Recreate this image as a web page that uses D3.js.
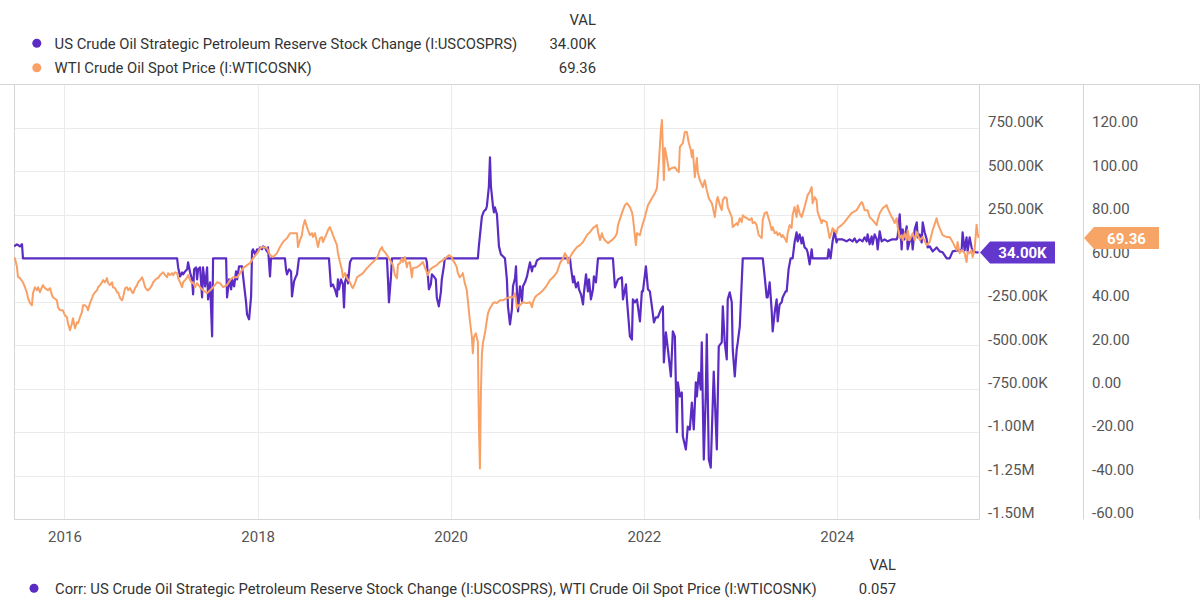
<!DOCTYPE html>
<html><head><meta charset="utf-8">
<script src="https://cdn.jsdelivr.net/npm/d3@7"></script>
<style>
body{margin:0;background:#fff;}
svg{display:block;font-family:Roboto,"Noto Sans",sans-serif;}
</style></head>
<body><svg id="chart" width="1200" height="600"></svg>
<script>
// ---------- DATA ----------
const sprName = "US Crude Oil Strategic Petroleum Reserve Stock Change (I:USCOSPRS)";
const wtiName = "WTI Crude Oil Spot Price (I:WTICOSNK)";
const corrName = "Corr: " + sprName + ", " + wtiName;
const legendHeader = "VAL";
const sprLastLabel = "34.00K";
const wtiLastLabel = "69.36";
const corrValueLabel = "0.057";

// the 0 label is hidden behind the last-value tag in the original
const sprTicksK = [-1500, -1250, -1000, -750, -500, -250, 250, 500, 750];
const sprGridK = [-1250, -1000, -750, -500, -250, 0, 250, 500, 750];
const wtiTicks = [-60, -40, -20, 0, 20, 40, 60, 80, 100, 120];
const yearTicks = [2016, 2018, 2020, 2022, 2024];

// dates as decimal years, SPR values in thousands
const sprDates = [2015.477,2015.508,2015.539,2015.560,2015.570,2017.165,2017.176,2017.196,2017.217,2017.227,2017.248,2017.269,2017.279,2017.300,2017.320,2017.331,2017.341,2017.362,2017.372,2017.383,2017.403,2017.424,2017.434,2017.455,2017.476,2017.486,2017.507,2017.528,2017.538,2017.673,2017.683,2017.704,2017.725,2017.735,2017.756,2017.776,2017.787,2017.807,2017.838,2017.849,2017.880,2017.890,2017.911,2017.932,2017.942,2017.952,2017.973,2017.994,2018.004,2018.025,2018.045,2018.056,2018.076,2018.097,2018.107,2018.128,2018.138,2018.283,2018.294,2018.304,2018.325,2018.346,2018.356,2018.377,2018.397,2018.408,2018.428,2018.739,2018.760,2018.780,2018.791,2018.801,2018.822,2018.832,2018.843,2018.864,2018.884,2018.895,2018.905,2018.926,2018.936,2018.957,2018.978,2019.340,2019.351,2019.361,2019.382,2019.392,2019.744,2019.754,2019.775,2019.795,2019.806,2019.826,2019.847,2019.857,2019.878,2019.899,2019.909,2019.930,2019.940,2020.282,2020.292,2020.313,2020.324,2020.344,2020.365,2020.375,2020.396,2020.407,2020.417,2020.438,2020.448,2020.458,2020.479,2020.489,2020.500,2020.520,2020.541,2020.562,2020.582,2020.593,2020.614,2020.634,2020.645,2020.666,2020.676,2020.686,2020.697,2020.717,2020.738,2020.748,2020.769,2020.790,2020.800,2020.821,2020.841,2020.852,2020.873,2020.893,2020.925,2021.235,2021.245,2021.266,2021.276,2021.297,2021.318,2021.328,2021.349,2021.370,2021.380,2021.401,2021.421,2021.432,2021.452,2021.473,2021.483,2021.504,2021.525,2021.680,2021.701,2021.732,2021.773,2021.784,2021.815,2021.825,2021.856,2021.877,2021.887,2021.908,2021.929,2021.960,2021.980,2021.991,2022.022,2022.043,2022.063,2022.084,2022.105,2022.125,2022.146,2022.177,2022.198,2022.208,2022.229,2022.250,2022.281,2022.301,2022.322,2022.343,2022.353,2022.374,2022.394,2022.405,2022.436,2022.456,2022.477,2022.498,2022.518,2022.539,2022.550,2022.570,2022.591,2022.601,2022.622,2022.643,2022.653,2022.674,2022.694,2022.715,2022.725,2022.757,2022.777,2022.808,2022.819,2022.839,2022.860,2022.870,2022.891,2022.912,2022.922,2022.943,2022.963,2022.974,2022.995,2023.015,2023.026,2023.233,2023.253,2023.274,2023.284,2023.305,2023.325,2023.336,2023.357,2023.377,2023.388,2023.408,2023.429,2023.439,2023.470,2023.481,2023.501,2023.522,2023.543,2023.563,2023.584,2023.595,2023.615,2023.636,2023.646,2023.667,2023.688,2023.698,2023.719,2023.740,2023.750,2023.905,2023.916,2023.936,2023.957,2023.978,2023.998,2024.009,2024.029,2024.061,2024.102,2024.133,2024.164,2024.185,2024.205,2024.236,2024.267,2024.288,2024.309,2024.319,2024.340,2024.361,2024.371,2024.392,2024.413,2024.423,2024.444,2024.464,2024.495,2024.526,2024.568,2024.620,2024.630,2024.651,2024.671,2024.682,2024.702,2024.723,2024.733,2024.754,2024.775,2024.785,2024.806,2024.827,2024.837,2024.858,2024.878,2024.889,2024.909,2024.930,2024.940,2024.961,2024.992,2025.033,2025.064,2025.095,2025.137,2025.168,2025.199,2025.250,2025.292,2025.302,2025.323,2025.343,2025.354,2025.375,2025.395,2025.406,2025.447,2025.468];
const sprValuesK = [69,81,69,81,0,0,-52,-104,-81,-92,-75,-63,-23,-81,-121,-207,-63,-52,-121,-63,-52,-225,-52,-161,-52,-236,-138,-449,0,0,-225,-121,-178,-121,-161,-75,-121,-46,-46,-104,-253,-322,-351,-219,40,52,23,52,40,63,52,69,63,40,63,-104,0,0,-63,-92,-63,-75,-219,-133,-104,-92,0,0,-161,-150,-167,-178,-219,-121,-178,-121,-150,-282,-138,-98,-144,-23,0,0,-121,-253,-104,0,0,-23,-178,-150,-92,-104,-121,-225,-276,-196,-121,-46,0,0,69,184,242,271,282,300,415,582,415,300,265,294,253,167,69,23,12,0,-121,-276,-380,-294,-161,-115,-46,-196,-305,-161,-248,-161,-138,-104,-75,-23,-75,-46,-46,-12,0,0,-52,-138,-104,-167,-138,-178,-207,-265,-196,-92,-190,-121,-236,-178,-104,-138,0,0,-167,-121,-109,-236,-150,-236,-449,-467,-236,-253,-236,-363,-190,-190,-46,-178,-190,-276,-369,-340,-340,-294,-276,-599,-426,-524,-680,-420,-449,-1000,-714,-795,-772,-1025,-1100,-968,-985,-830,-985,-714,-795,-657,-755,-484,-1158,-772,-438,-1158,-1204,-830,-651,-1100,-507,-484,-276,-484,-582,-236,-196,-253,-524,-680,-524,-484,-392,-138,0,0,-104,-225,-225,-138,-294,-420,-311,-236,-363,-265,-253,-225,-190,-190,-63,0,0,92,150,98,138,86,121,63,52,35,-35,52,0,0,52,0,98,156,92,109,109,109,98,109,98,115,92,109,98,121,98,138,81,127,81,138,109,52,156,98,109,98,109,109,127,253,52,167,109,184,52,98,127,52,167,207,121,138,92,207,150,109,63,69,40,63,40,35,0,0,40,46,46,150,46,121,40,121,63,40,34,34];

const wtiDates = [2015.477,2015.487,2015.508,2015.518,2015.539,2015.570,2015.591,2015.612,2015.622,2015.643,2015.663,2015.674,2015.694,2015.715,2015.726,2015.746,2015.767,2015.777,2015.798,2015.829,2015.850,2015.871,2015.881,2015.922,2015.933,2015.953,2015.984,2016.005,2016.026,2016.036,2016.057,2016.078,2016.088,2016.109,2016.129,2016.140,2016.161,2016.181,2016.192,2016.212,2016.233,2016.243,2016.264,2016.285,2016.295,2016.316,2016.337,2016.347,2016.368,2016.388,2016.399,2016.419,2016.440,2016.451,2016.471,2016.492,2016.502,2016.523,2016.544,2016.554,2016.575,2016.596,2016.606,2016.627,2016.647,2016.658,2016.678,2016.699,2016.710,2016.730,2016.751,2016.761,2016.782,2016.803,2016.813,2016.834,2016.855,2016.865,2016.886,2016.906,2016.917,2016.937,2016.958,2016.968,2016.989,2017.010,2017.020,2017.041,2017.062,2017.072,2017.093,2017.113,2017.124,2017.144,2017.165,2017.176,2017.196,2017.217,2017.227,2017.248,2017.269,2017.279,2017.300,2017.320,2017.331,2017.351,2017.372,2017.403,2017.434,2017.476,2017.507,2017.538,2017.579,2017.610,2017.642,2017.683,2017.714,2017.745,2017.787,2017.818,2017.849,2017.890,2017.921,2017.952,2017.994,2018.025,2018.056,2018.097,2018.128,2018.159,2018.200,2018.231,2018.263,2018.304,2018.335,2018.366,2018.408,2018.418,2018.439,2018.459,2018.470,2018.490,2018.511,2018.522,2018.542,2018.563,2018.573,2018.594,2018.615,2018.625,2018.646,2018.666,2018.677,2018.718,2018.729,2018.749,2018.770,2018.780,2018.801,2018.822,2018.832,2018.853,2018.874,2018.884,2018.905,2018.926,2018.957,2018.978,2018.988,2019.009,2019.030,2019.061,2019.092,2019.133,2019.164,2019.195,2019.237,2019.268,2019.289,2019.299,2019.319,2019.340,2019.371,2019.402,2019.423,2019.444,2019.454,2019.475,2019.495,2019.506,2019.526,2019.547,2019.557,2019.578,2019.599,2019.609,2019.650,2019.682,2019.713,2019.733,2019.754,2019.764,2019.785,2019.816,2019.857,2019.888,2019.920,2019.961,2019.982,2020.013,2020.023,2020.044,2020.064,2020.075,2020.095,2020.116,2020.126,2020.147,2020.168,2020.178,2020.199,2020.220,2020.230,2020.241,2020.261,2020.282,2020.292,2020.303,2020.313,2020.324,2020.334,2020.355,2020.375,2020.386,2020.407,2020.427,2020.438,2020.458,2020.479,2020.510,2020.541,2020.582,2020.614,2020.645,2020.666,2020.686,2020.697,2020.717,2020.748,2020.790,2020.821,2020.841,2020.852,2020.873,2020.893,2020.925,2020.956,2020.997,2021.028,2021.059,2021.100,2021.132,2021.163,2021.183,2021.204,2021.214,2021.235,2021.266,2021.307,2021.339,2021.370,2021.411,2021.442,2021.473,2021.515,2021.525,2021.546,2021.566,2021.577,2021.597,2021.628,2021.670,2021.701,2021.722,2021.732,2021.773,2021.804,2021.825,2021.856,2021.877,2021.887,2021.918,2021.929,2021.960,2021.980,2022.011,2022.043,2022.084,2022.115,2022.136,2022.156,2022.177,2022.188,2022.198,2022.208,2022.219,2022.239,2022.260,2022.291,2022.322,2022.343,2022.363,2022.374,2022.405,2022.425,2022.446,2022.467,2022.487,2022.498,2022.508,2022.529,2022.550,2022.560,2022.581,2022.612,2022.632,2022.653,2022.674,2022.705,2022.715,2022.736,2022.757,2022.767,2022.788,2022.808,2022.819,2022.839,2022.860,2022.870,2022.891,2022.912,2022.922,2022.963,2022.974,2022.995,2023.015,2023.026,2023.046,2023.067,2023.098,2023.119,2023.129,2023.150,2023.170,2023.191,2023.222,2023.233,2023.253,2023.274,2023.284,2023.305,2023.325,2023.336,2023.357,2023.377,2023.388,2023.408,2023.429,2023.439,2023.460,2023.481,2023.491,2023.512,2023.532,2023.543,2023.563,2023.584,2023.595,2023.615,2023.636,2023.667,2023.698,2023.719,2023.740,2023.750,2023.771,2023.791,2023.802,2023.843,2023.853,2023.895,2023.905,2023.926,2023.947,2023.957,2023.998,2024.009,2024.050,2024.081,2024.112,2024.153,2024.205,2024.236,2024.257,2024.267,2024.288,2024.319,2024.340,2024.371,2024.413,2024.423,2024.444,2024.475,2024.516,2024.526,2024.568,2024.578,2024.599,2024.620,2024.630,2024.651,2024.671,2024.682,2024.702,2024.723,2024.733,2024.754,2024.785,2024.806,2024.827,2024.858,2024.889,2024.930,2024.961,2024.992,2025.033,2025.044,2025.064,2025.095,2025.137,2025.168,2025.199,2025.240,2025.250,2025.271,2025.292,2025.323,2025.343,2025.354,2025.375,2025.395,2025.406,2025.426,2025.447,2025.457,2025.468];
const wtiValues = [60,60,56,51.5,50.9,49,46.7,44,41.7,39.4,38.4,44,46.7,45.3,46.7,44.4,46.7,47.7,46.3,45.3,46.3,43,42.1,40.7,37.5,36.1,36.1,33.8,32.9,30.1,26.9,30.1,32.4,27.8,30.6,30.1,32.9,35.2,38.4,38.4,37.5,36.1,39.4,41.7,43,44.4,45.3,46.7,47.7,49,50,49,50.9,48.6,47.7,49,46.7,46.3,44.4,44.4,41.7,40.7,42.1,46.3,46.7,45.3,46.3,44.4,44,46.3,47.7,49,50,51.3,50,46.7,45.3,45.3,46.3,47.7,49,50,50.9,50.9,52.3,53.2,53.6,52.3,51.3,53.2,52.3,53.2,52.3,53.6,53.2,50.9,49,46.7,49,50,51.3,52.3,50,48.6,49,46.7,48.6,46.7,45.3,44,45.3,46.7,49,48.6,46.7,47.7,50,51.3,51.3,53.2,55.5,56.9,57.8,60,62.4,64.7,65.2,64.7,61.5,60.6,62.4,65.2,67.5,69.3,71.6,71.6,71.6,65.2,68.4,70.7,74.4,77.6,74.4,73,70.7,71.6,69.8,71.6,67.5,65.2,69.3,69.8,67.5,71.6,73,74.4,72.1,70.7,68.4,66.1,62.4,58.3,54.6,51.3,53.2,50.9,49,46.7,46.3,48.6,51.3,52.3,53.2,55.5,56.9,58.3,60.1,63.8,65.2,63.8,62.9,61.5,59.2,56.9,52.3,50.9,57,57.8,60,58.3,60.6,55.9,57.8,58.3,51.3,55.5,55.9,56.9,58.3,55.9,53.6,52.3,54.6,55.9,56.9,58.3,59.2,60.6,61.5,60.6,59.2,57.8,55.9,53.2,51.3,52.3,53.2,48.6,45.3,40.7,31.5,23.7,16.3,23.7,25.5,21.4,-14.6,-36.7,-2.1,16.3,20.9,25.5,31.5,34.7,37.1,38.4,39.4,39.8,39.4,40.7,40.7,41.7,42.1,42.1,43.9,37.1,38.4,38.4,39.8,39.4,39.8,37.5,39.8,42.1,43,44,45.3,47.7,50,51.3,53.6,57.8,60,62.4,60.6,57.8,60.6,62.9,65.2,66.1,67.5,70.7,72.1,73.9,75.3,72.1,68.4,71.6,69.8,68.4,67,68.4,69.8,71.6,75.3,80.8,84.5,85.4,83.6,81.3,79,66.1,71.6,70.7,74.4,79,84.5,87.7,90,92.3,103.9,119.1,123.7,109.9,96,110.8,106.2,100.6,101.6,102,100.6,99.7,111.3,113.1,118.2,118.2,113.1,109.9,106.6,109.9,97.4,106.2,99.7,96,92.8,96,91.4,87.7,85.4,83.6,79,86.8,88.2,84.5,82.2,86.8,88.2,87.7,83.6,81.3,79,74.4,76.2,75.3,78.5,76.7,79.9,79,78.5,77.6,78.5,76.2,76.7,75.3,70.7,69.3,77.6,80.8,81.3,79.9,76.7,73,74.4,71.6,72.1,70.7,71.6,69.8,70.7,69.3,67.5,71.6,75.3,74,80,83.6,79,84.5,80.8,79,83.6,89.1,90.5,92.8,85.4,88.2,86.8,81.3,76.2,77.6,76.7,74.4,69.3,72.1,73.9,71.6,73.9,75.3,76.7,78.5,80.8,82.2,84.5,85.9,85.4,82.2,82.2,79,77.6,75.3,77.6,80.8,83.1,84.5,83.1,79,78.5,76.2,78.5,74.4,69.3,70.7,68.4,71.6,68.4,73,68.4,71.6,68.4,72.1,68.4,69.8,66.1,67.5,73,78.5,76.2,73.9,70.7,69.8,69.8,67.5,63.8,67.5,62.4,63.8,62.4,58.3,62.9,62.4,63.8,60.6,63.8,75.5,71.6,69.36];

// ---------- LAYOUT ----------
const W = 1200, H = 600;
const plot = {left: 14, right: 979, top: 84.6, bottom: 519};
const axis2X = 1083, outerRight = 1199;
const purple = "#5b2cc4", orange = "#f8a066";
const purpleTag = "#6336cc", orangeTag = "#f7a467";
const gridColor = "#ebebeb", frameColor = "#d6d6d6", textColor = "#333", axisText = "#555";

function yearToDate(y) {
  const yr = Math.floor(y);
  const s = new Date(yr, 0, 1).getTime(), e = new Date(yr + 1, 0, 1).getTime();
  return new Date(s + (y - yr) * (e - s));
}

const spr = sprDates.map((d, i) => ({date: yearToDate(d), v: sprValuesK[i]}));
const wti = wtiDates.map((d, i) => ({date: yearToDate(d), v: wtiValues[i]}));

const x = d3.scaleTime().domain([yearToDate(2015.477), yearToDate(2025.472)]).range([plot.left, plot.right]);
const ySpr = d3.scaleLinear().domain([-1500, 1000]).range([plot.bottom, plot.top]);
const yWti = d3.scaleLinear().domain([-60, 140]).range([plot.bottom, plot.top]);

const svg = d3.select("#chart");
svg.append("rect").attr("width", W).attr("height", H).attr("fill", "#fff");

// gridlines
const g = svg.append("g");
g.selectAll(".hg").data(sprGridK).join("line")
  .attr("x1", plot.left).attr("x2", plot.right)
  .attr("y1", d => Math.round(ySpr(d)) + 0.5).attr("y2", d => Math.round(ySpr(d)) + 0.5)
  .attr("stroke", gridColor).attr("stroke-width", 1);
g.selectAll(".vg").data(yearTicks).join("line")
  .attr("x1", d => Math.round(x(yearToDate(d))) + 0.5).attr("x2", d => Math.round(x(yearToDate(d))) + 0.5)
  .attr("y1", plot.top).attr("y2", plot.bottom)
  .attr("stroke", gridColor).attr("stroke-width", 1);

// frame
const fr = svg.append("g").attr("stroke", frameColor).attr("stroke-width", 1).attr("fill", "none");
fr.append("line").attr("x1", 0).attr("x2", W).attr("y1", 84.5).attr("y2", 84.5);
fr.append("line").attr("x1", plot.left + 0.5).attr("x2", plot.left + 0.5).attr("y1", 84.5).attr("y2", plot.bottom + 0.5);
fr.append("line").attr("x1", plot.left).attr("x2", plot.right + 0.5).attr("y1", plot.bottom + 0.5).attr("y2", plot.bottom + 0.5);
[plot.right + 0.5, axis2X + 0.5, outerRight + 0.5].forEach(xx =>
  fr.append("line").attr("x1", xx).attr("x2", xx).attr("y1", 84.5).attr("y2", plot.bottom + 0.5));

// lines
svg.append("clipPath").attr("id", "clip").append("rect")
  .attr("x", plot.left).attr("y", plot.top).attr("width", plot.right - plot.left).attr("height", plot.bottom - plot.top);
const lines = svg.append("g").attr("clip-path", "url(#clip)");
lines.append("path").datum(spr)
  .attr("d", d3.line().x(d => x(d.date)).y(d => ySpr(d.v)))
  .attr("fill", "none").attr("stroke", purple).attr("stroke-width", 2.2).attr("stroke-linejoin", "round");
lines.append("path").datum(wti)
  .attr("d", d3.line().x(d => x(d.date)).y(d => yWti(d.v)))
  .attr("fill", "none").attr("stroke", orange).attr("stroke-width", 2).attr("stroke-linejoin", "round");

// axes (labels only)
const fmtSpr = v => v === 0 ? "0.00" : (Math.abs(v) >= 1000 ? (v / 1000).toFixed(2) + "M" : v.toFixed(2) + "K");
const a1 = d3.axisRight(ySpr).tickValues(sprTicksK).tickFormat(fmtSpr).tickSize(0).tickPadding(0);
const a1g = svg.append("g").attr("transform", `translate(${plot.right + 9},-6)`).call(a1);
const a2 = d3.axisRight(yWti).tickValues(wtiTicks).tickFormat(d => d.toFixed(2)).tickSize(0).tickPadding(0);
const a2g = svg.append("g").attr("transform", `translate(${axis2X + 9},-6)`).call(a2);
const ax = d3.axisBottom(x).tickValues(yearTicks.map(yearToDate)).tickFormat(d3.timeFormat("%Y")).tickSize(0).tickPadding(0);
const axg = svg.append("g").attr("transform", `translate(0,${plot.bottom + 12})`).call(ax);
[a1g, a2g, axg].forEach(s => {
  s.select(".domain").remove();
  s.selectAll("text").attr("font-family", "Roboto").attr("font-size", 15).attr("fill", axisText);
});

// last-value tags
function tag(xTip, yv, color, label) {
  const h = 22, w = 65, aw = 10;
  const t = svg.append("g");
  t.append("path").attr("d",
    `M${xTip},${yv} L${xTip + aw},${yv - h / 2} L${xTip + aw + w},${yv - h / 2} L${xTip + aw + w},${yv + h / 2} L${xTip + aw},${yv + h / 2} Z`)
    .attr("fill", color);
  t.append("text").attr("x", xTip + aw + w / 2).attr("y", yv + 5.5).attr("text-anchor", "middle")
    .attr("fill", "#fff").attr("font-weight", 700).attr("font-size", 15).text(label);
}
tag(plot.right + 1, ySpr(sprValuesK[sprValuesK.length - 1]), purpleTag, sprLastLabel);
tag(axis2X + 1, yWti(wtiValues[wtiValues.length - 1]), orangeTag, wtiLastLabel);

// top legend
const lg = svg.append("g").attr("font-size", 14.8).attr("fill", textColor);
lg.append("text").attr("x", 596).attr("y", 24.5).attr("text-anchor", "end").text(legendHeader);
[[sprName, purple, sprLastLabel], [wtiName, orange, wtiLastLabel]].forEach((r, i) => {
  const cy = 43.3 + i * 24.4;
  lg.append("circle").attr("cx", 36.8).attr("cy", cy).attr("r", 4.5).attr("fill", r[1]);
  lg.append("text").attr("x", 54.6).attr("y", cy + 5.2).text(r[0]);
  lg.append("text").attr("x", 596).attr("y", cy + 5.2).attr("text-anchor", "end").text(r[2]);
});

// bottom legend
const bl = svg.append("g").attr("font-size", 14.8).attr("fill", textColor);
bl.append("text").attr("x", 896).attr("y", 570.2).attr("text-anchor", "end").text(legendHeader);
bl.append("circle").attr("cx", 34).attr("cy", 588.3).attr("r", 4.5).attr("fill", purple);
bl.append("text").attr("x", 55).attr("y", 593.5).text(corrName);
bl.append("text").attr("x", 896).attr("y", 593.5).attr("text-anchor", "end").text(corrValueLabel);
</script>
</body></html>
